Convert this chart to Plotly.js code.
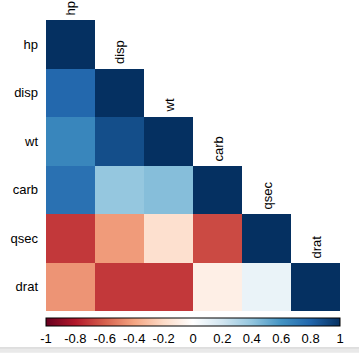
<!DOCTYPE html>
<html><head><meta charset="utf-8">
<script src="https://cdn.plot.ly/plotly-3.0.1.min.js"></script>
<style>body{margin:0;padding:0;background:#fff}#chart{width:359px;height:353px}</style>
</head><body><div id="chart"></div>
<script>
var vars = ["hp", "disp", "wt", "carb", "qsec", "drat"];
var row_hp   = [1];
var row_disp = [0.79, 1];
var row_wt   = [0.66, 0.89, 1];
var row_carb = [0.75, 0.39, 0.43, 1];
var row_qsec = [-0.71, -0.43, -0.17, -0.66, 1];
var row_drat = [-0.45, -0.71, -0.71, -0.09, 0.09, 1];
var cbTicks = [-1, -0.8, -0.6, -0.4, -0.2, 0, 0.2, 0.4, 0.6, 0.8, 1];
var cbTickText = ["-1", "-0.8", "-0.6", "-0.4", "-0.2", "0", "0.2", "0.4", "0.6", "0.8", "1"];

var rows = [row_hp, row_disp, row_wt, row_carb, row_qsec, row_drat];
var n = vars.length;
var z = rows.map(function(r){
  var out = [];
  for (var j = 0; j < n; j++) out.push(j < r.length ? r[j] : null);
  return out;
});
var xIdx = vars.map(function(_, i){ return i; });

var rdbu = [
  [0.0, "#67001F"], [0.1, "#B2182B"], [0.2, "#D6604D"], [0.3, "#F4A582"],
  [0.4, "#FDDBC7"], [0.5, "#FFFFFF"], [0.6, "#D1E5F0"], [0.7, "#92C5DE"],
  [0.8, "#4393C3"], [0.9, "#2166AC"], [1.0, "#053061"]
];

var trace = {
  type: "heatmap",
  z: z, x: xIdx, y: xIdx,
  zmin: -1, zmax: 1,
  colorscale: rdbu,
  hoverongaps: false,
  colorbar: {
    orientation: "h",
    thickness: 8,
    thicknessmode: "pixels",
    len: 294, lenmode: "pixels",
    x: 0, xanchor: "left",
    y: -0.02, yanchor: "top",
    xpad: 0, ypad: 0,
    outlinecolor: "#000", outlinewidth: 1,
    ticks: "",
    tickvals: cbTicks, ticktext: cbTickText,
    tickfont: {family: "Liberation Sans, Arial, sans-serif", size: 13, color: "#000"},
    ticklabelstandoff: 4
  }
};

var annotations = vars.map(function(v, i){
  return {
    x: i, y: i - 0.5, xref: "x", yref: "y",
    text: v, textangle: -90, showarrow: false,
    xanchor: "center", yanchor: "bottom", yshift: 2,
    font: {family: "Liberation Sans, Arial, sans-serif", size: 13, color: "#000"}
  };
});

var layout = {
  width: 359, height: 353,
  margin: {l: 46, r: 19, t: 20, b: 41},
  paper_bgcolor: "#fff", plot_bgcolor: "#fff",
  showlegend: false,
  xaxis: {range: [-0.5, n - 0.5], showgrid: false, zeroline: false, showticklabels: false, ticks: "", showline: false, fixedrange: true},
  yaxis: {range: [n - 0.5, -0.5], showgrid: false, zeroline: false, ticks: "",
          tickvals: xIdx, ticktext: vars, ticklabelstandoff: 7,
          tickfont: {family: "Liberation Sans, Arial, sans-serif", size: 13, color: "#000"}, showline: false, fixedrange: true},
  annotations: annotations,
  shapes: [
    {type: "rect", xref: "paper", yref: "paper", x0: -46/294, x1: 1 + 19/294,
     y0: (312-349)/292, y1: (312-354)/292, fillcolor: "#e9e9e9", line: {width: 0}, layer: "above"},
    {type: "line", xref: "paper", yref: "paper", x0: -46/294, x1: 1 + 19/294,
     y0: (312-349)/292, y1: (312-349)/292, line: {color: "#cfcfcf", width: 1}, layer: "above"}
  ]
};

Plotly.newPlot("chart", [trace], layout, {displayModeBar: false, staticPlot: true});
</script>
</body></html>
